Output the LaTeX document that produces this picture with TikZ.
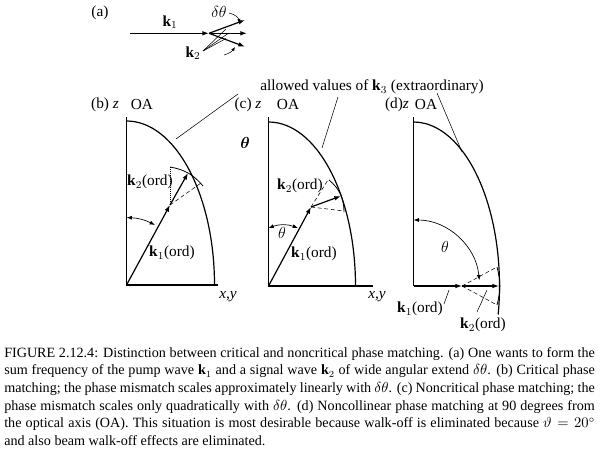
\documentclass[tikz,border=0pt]{standalone}
\usepackage{amsmath}
\usepackage{fontspec}
\setmainfont{Liberation Serif}
\usetikzlibrary{arrows.meta}
\begin{document}
\begin{tikzpicture}[x=0.75pt,y=-0.75pt,
  lab/.style={font=\fontsize{11.5}{13}\selectfont,inner sep=0pt},
  ax/.style={line width=0.8pt},
  ell/.style={line width=0.9pt},
  vec/.style={line width=0.9pt,-{Latex[length=5pt,width=3.5pt]}},
  dsh/.style={densely dashed,line width=0.4pt},
  dot/.style={densely dotted,line width=0.5pt},
  thin/.style={line width=0.4pt},
  ang/.style={line width=0.5pt,{Latex[length=4pt,width=3pt]}-{Latex[length=4pt,width=3pt]}}]
\useasboundingbox (0,0) rectangle (600,450);
% ---- (a)
\node[lab] (la) at (100,13) {(a)};
\coordinate (a0) at (130,33.3);
\coordinate (a1) at (209,33.3);
\draw[vec] (a0) -- (a1);
\node[lab] (ka1) at (170,22) {$\mathbf{k}_1$};
\coordinate (at1) at (245,20);\coordinate (at2) at (247,33.3);\coordinate (at3) at (245,46.7);
\draw[vec] (a1) -- (at1);\draw[vec] (a1) -- (at2);\draw[vec] (a1) -- (at3);
\node[lab] (ka2) at (193,53) {$\mathbf{k}_2$};
\draw[thin] (203,51) -- (226,29); \draw[thin] (203,51) -- (228,33.5); \draw[thin] (203,51) -- (226,38.5);
\node[lab] (dth) at (219,12) {$\delta\theta$};
\draw[thin,-{Latex[length=3pt,width=2.5pt]}] (229,13) to[bend left=30] (240,23);
\draw[thin,-{Latex[length=3pt,width=2.5pt]}] (224,55) to[bend right=20] (235,47);
% ---- common label
\node[lab] (allow) at (372,87) {allowed values of $\mathbf{k}_3$ (extraordinary)};
\draw[thin] (238,94) -- (176,139);
\draw[thin] (338,97) -- (322,148);
\draw[thin] (437,93) -- (462,152);
% ---- (b)
\coordinate (bo) at (126.5,285);
\draw[ax] (126.5,117) -- (bo) -- (218,285);
\draw[ell] (126.5,121) arc[start angle=90,end angle=0,x radius=88,y radius=-164];
\node[lab] (lb) at (105,105) {(b) \textit{z}};
\node[lab] (oab) at (142,104) {OA};
\node[lab] (xyb) at (228,297) {\textit{x,y}};
\coordinate (bk1) at (170,205);
\coordinate (bk2) at (188,173);
\draw[vec] (bo) -- (bk1);
\draw[vec] (bk1) -- (bk2);
\draw[dot] (170,167) -- (bk1);
\draw[dsh] (bk1) -- (201,183);
\draw[thin,line width=0.6pt] (170,167) to[bend left=20] (203,186);
\draw[ang] (126.5,217.5) to[bend left=12] (155,225);
\node[lab] (k2b) at (150,182) {$\mathbf{k}_2$(ord)};
\node[lab] (k1b) at (172,253) {$\mathbf{k}_1$(ord)};
% ---- (c)
\coordinate (co) at (268.5,286);
\draw[ax] (268.5,117) -- (co) -- (373,286);
\draw[ell] (268.5,122) arc[start angle=90,end angle=0,x radius=87,y radius=-164];
\node[lab] (lc) at (248,105) {(c) \textit{z}};
\node[lab] (oac) at (288,104) {OA};
\node[lab] (xyc) at (377,297) {\textit{x,y}};
\node[lab] (thc) at (245,143) {$\boldsymbol{\theta}$};
\coordinate (ck1) at (311,207);
\coordinate (ck2) at (341,196);
\draw[vec] (co) -- (ck1);
\draw[vec] (ck1) -- (ck2);
\draw[dsh] (ck1) -- (328,180);
\draw[dsh] (ck1) -- (344,211);
\draw[thin,line width=0.6pt] (329,180) to[bend left=25] (344,212);
\draw[ang] (268.5,228) to[bend left=20] (298,228);
\node[lab] (thc2) at (282,233) {$\theta$};
\node[lab] (k2c) at (300,186) {$\mathbf{k}_2$(ord)};
\node[lab] (k1c) at (314,254) {$\mathbf{k}_1$(ord)};
% ---- (d)
\coordinate (do) at (413.5,286);
\draw[ax] (413.5,117) -- (do);
\draw[ell] (413.5,122) arc[start angle=90,end angle=-10,x radius=86,y radius=-164];
\node[lab] (ld) at (397,105) {(d)\textit{z}};
\node[lab] (oad) at (426,104) {OA};
\coordinate (dk1) at (462,286);
\coordinate (dk2) at (499,286);
\draw[vec] (do) -- (dk1);
\draw[vec] (dk1) -- (dk2);
\draw[dsh] (dk1) -- (497,267);
\draw[dsh] (dk1) -- (497,305);
\draw[thin,line width=0.6pt] (497,267) to[bend left=15] (497,305);
\draw[ang] (413.5,220) arc[start angle=90,end angle=5,x radius=66,y radius=-66];
\node[lab] (thd) at (445,247) {$\theta$};
\node[lab] (k1d) at (420,309) {$\mathbf{k}_1$(ord)};
\draw[thin] (444,304) -- (449,290);
\node[lab] (k2d) at (483,325) {$\mathbf{k}_2$(ord)};
\draw[thin] (477,312) -- (487,290);
% ---- caption
\node[anchor=north west,inner sep=0pt,text width=443pt,align=justify,
  font=\fontsize{10.6}{13.2}\selectfont] (cap) at (4,347) {FIGURE 2.12.4: Distinction between critical and noncritical phase matching. (a) One wants to form the sum frequency of the pump wave $\mathbf{k}_1$ and a signal wave $\mathbf{k}_2$ of wide angular extend $\delta\theta$. (b) Critical phase matching; the phase mismatch scales approximately linearly with $\delta\theta$. (c) Noncritical phase matching; the phase mismatch scales only quadratically with $\delta\theta$. (d) Noncollinear phase matching at 90 degrees from the optical axis (OA). This situation is most desirable because walk-off is eliminated because $\vartheta=20^\circ$ and also beam walk-off effects are eliminated.};
\end{tikzpicture}
\end{document}
